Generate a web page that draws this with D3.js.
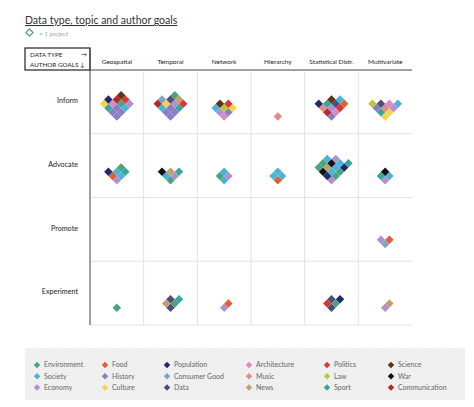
<!DOCTYPE html>
<html><head><meta charset="utf-8">
<script src="https://cdn.jsdelivr.net/npm/d3@7"></script>
<style>body{margin:0;background:#fff;font-family:Lato,"Open Sans",sans-serif;}</style>
</head><body>
<svg id="chart" width="474" height="407"></svg>
<script>
var dataTypes = ["Geospatial", "Temporal", "Network", "Hierarchy", "Statistical Distr.", "Multivariate"];
var goals = ["Inform", "Advocate", "Promote", "Experiment"];
var topics = ["Environment", "Society", "Economy", "Food", "History", "Culture", "Population", "Consumer Good", "Data",
	"Architecture", "Music", "News", "Politics", "Law", "Sport", "Science", "War", "Communication"];
var topicColors = ["#4aa57f", "#4bb3d6", "#b58ed0", "#e0602f", "#8a7dc4", "#f5d34a", "#1f2a6b", "#7fa3c0", "#4e4e78",
	"#d98bc4", "#e08a8a", "#c2a06b", "#d93636", "#b5c93a", "#3aa59a", "#5a3516", "#111111", "#b5292b"];

// projects per cell, [goal][dataType], listed from the heart's tip upwards
var inform = [
	["History", "History", "History", "History", "Society", "Sport", "Environment", "Architecture", "Economy", "Culture", "Communication", "Politics", "Population", "Science"],
	["History", "History", "History", "History", "Sport", "Society", "Economy", "Culture", "Politics", "Communication", "Data", "News", "Consumer Good", "Environment"],
	["Architecture", "History", "Economy", "Law", "Culture", "Society", "Politics", "Science"],
	["Music"],
	["History", "Architecture", "Communication", "Economy", "Politics", "Music", "Data", "Sport", "Food", "Population", "Science", "Society"],
	["Culture", "Culture", "Sport", "Music", "Economy", "History", "Architecture", "Data", "Society", "Law"]
];
var advocate = [
	["Economy", "Society", "Food", "Society", "Sport", "Population", "Environment"],
	["Environment", "Economy", "Society", "News", "Sport", "War"],
	["Society", "Economy", "Environment", "Society"],
	["Food", "Society", "Society", "Society"],
	["Economy", "Environment", "Population", "Society", "Environment", "War", "Society", "News", "Population", "Environment", "War", "Society", "Environment", "Economy", "Society", "Sport"],
	["Economy", "Society", "Sport", "War"]
];
var promote = [[], [], [], [], [], ["Consumer Good", "Food", "Economy"]];
var experiment = [
	["Environment"],
	["Data", "Environment", "News", "Data", "Sport"],
	["Economy", "Food"],
	[],
	["Data", "Environment", "Politics", "Data", "Population"],
	["Economy", "News"]
];
var cells = [inform, advocate, promote, experiment];

// heart layout on a 45 degree grid: (u, v) steps up-right / up-left from the tip
var heartOrder = [[0,0],[1,0],[0,1],[1,1],[2,0],[0,2],[2,1],[1,2],[3,0],[0,3],[2,2],[3,1],[1,3],[3,2],[2,3],[4,0],[0,4],[4,1],[1,4]];

var svg = d3.select("#chart");
var color = d3.scaleOrdinal().domain(topics).range(topicColors);

var x = d3.scaleBand().domain(dataTypes).range([90, 412]);
var y = d3.scaleBand().domain(goals).range([70, 325]);

svg.append("text").attr("x", 25).attr("y", 24).attr("font-size", 10.5).attr("fill", "#333")
	.attr("text-decoration", "underline").text("Data type, topic and author goals");
svg.append("rect").attr("x", 27).attr("y", 30).attr("width", 5).attr("height", 5)
	.attr("transform", "rotate(45 29.5 32.5)").attr("fill", "none").attr("stroke", "#4aa57f").attr("stroke-width", 1.2);
svg.append("text").attr("x", 39).attr("y", 36).attr("font-size", 6.5).attr("fill", "#aaa")
	.attr("font-style", "italic").text("= 1 project");

// header box
svg.append("rect").attr("x", 25).attr("y", 48).attr("width", 65).attr("height", 22)
	.attr("fill", "none").attr("stroke", "#222").attr("stroke-width", 1.2);
svg.append("text").attr("x", 30).attr("y", 57).attr("font-size", 6.3).attr("fill", "#222").text("DATA TYPE");
svg.append("text").attr("x", 87).attr("y", 57).attr("font-size", 6.3).attr("text-anchor", "end").attr("fill", "#222").text("→");
svg.append("text").attr("x", 30).attr("y", 67).attr("font-size", 6.3).attr("fill", "#222").text("AUTHOR GOALS ↓");

// grid
svg.selectAll(".vline").data(dataTypes.slice(1)).enter().append("line")
	.attr("x1", d => x(d)).attr("x2", d => x(d)).attr("y1", 72).attr("y2", 325)
	.attr("stroke", "#e2e2e2");
svg.selectAll(".hline").data(goals).enter().append("line")
	.attr("x1", 90).attr("x2", 412).attr("y1", d => y(d) + y.bandwidth()).attr("y2", d => y(d) + y.bandwidth())
	.attr("stroke", "#e2e2e2");
svg.append("line").attr("x1", 90).attr("x2", 412).attr("y1", 70).attr("y2", 70).attr("stroke", "#444");
svg.append("line").attr("x1", 90).attr("x2", 90).attr("y1", 48).attr("y2", 325).attr("stroke", "#444");

svg.selectAll(".colLabel").data(dataTypes).enter().append("text")
	.attr("x", d => x(d) + x.bandwidth() / 2).attr("y", 64).attr("text-anchor", "middle")
	.attr("font-size", 6.5).attr("fill", "#222").text(d => d);
svg.selectAll(".rowLabel").data(goals).enter().append("text")
	.attr("x", 78).attr("y", d => y(d) + 33).attr("text-anchor", "end")
	.attr("font-size", 7.2).attr("fill", "#222").text(d => d);

// hearts
var s = 6, h = s / Math.SQRT2;
goals.forEach(function(goal, gi) {
	dataTypes.forEach(function(dt, di) {
		var list = cells[gi][di];
		var cx = x(dt) + x.bandwidth() / 2;
		var tipY = y(goal) + y.bandwidth() - 13;
		var g = svg.append("g");
		list.forEach(function(t, i) {
			var p = heartOrder[i];
			var px = cx + (p[0] - p[1]) * h;
			var py = tipY - (p[0] + p[1]) * h - h;
			g.append("rect").attr("x", px - s / 2).attr("y", py - s / 2).attr("width", s).attr("height", s)
				.attr("transform", "rotate(45 " + px + " " + py + ")").attr("fill", color(t));
		});
	});
});

// legend
var defs = svg.append("defs");
var pat = defs.append("pattern").attr("id", "hatch").attr("width", 3).attr("height", 3)
	.attr("patternUnits", "userSpaceOnUse");
pat.append("rect").attr("width", 3).attr("height", 3).attr("fill", "#f3f3f3");
pat.append("path").attr("d", "M0,3 L3,0").attr("stroke", "#e4e4e4").attr("stroke-width", 0.7);
svg.append("rect").attr("x", 25).attr("y", 348).attr("width", 440).attr("height", 52).attr("fill", "url(#hatch)");

var legendX = [37, 105, 167, 249, 327, 391];
var legend = svg.selectAll(".legend").data(topics).enter().append("g")
	.attr("transform", (d, i) => "translate(" + legendX[Math.floor(i / 3)] + "," + (365 + (i % 3) * 11.3) + ")");
legend.append("rect").attr("x", -2.3).attr("y", -2.3).attr("width", 4.6).attr("height", 4.6)
	.attr("transform", "rotate(45)").attr("fill", d => color(d));
legend.append("text").attr("x", 7).attr("y", 2.4).attr("font-size", 7).attr("fill", "#666").text(d => d);
</script>
</body></html>
